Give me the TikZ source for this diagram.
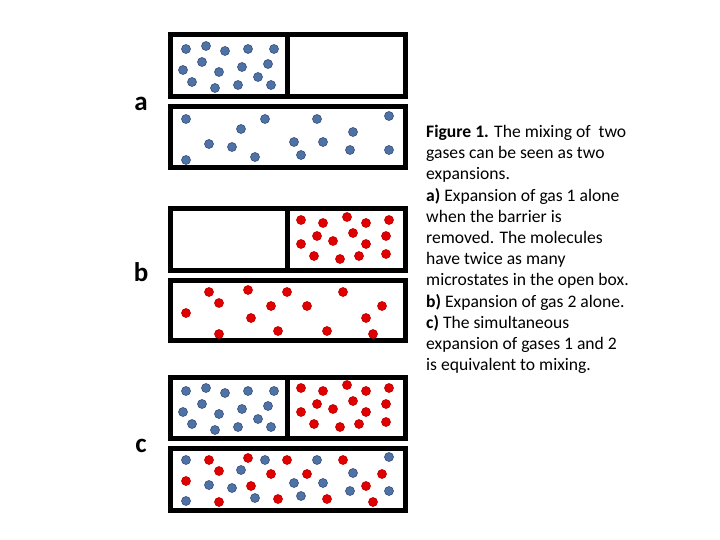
\documentclass[tikz,border=0pt]{standalone}
\usepackage{fontspec}
\setmainfont{Carlito}
\begin{document}
\begin{tikzpicture}[x=1pt,y=-1pt,
  box/.style={draw=black,line width=5pt},
  bd/.style={circle,fill={rgb,255:red,79;green,114;blue,165},draw={rgb,255:red,55;green,80;blue,125},line width=0.6pt,inner sep=0pt,minimum size=9pt},
  rd/.style={circle,fill={rgb,255:red,225;green,0;blue,0},draw={rgb,255:red,190;green,0;blue,0},line width=0.6pt,inner sep=0pt,minimum size=9pt},
  lab/.style={font=\bfseries\fontsize{27}{27}\selectfont}]
\useasboundingbox (0,0) rectangle (720,540);
% boxes
\foreach \t/\h in {35/97,209/270,377/438}{
  \draw[box] (170,\t) rectangle (405,\h);
  \draw[box] (287,\t) -- (287,\h);}
\foreach \t/\h in {107/168,280/340,448/510}{
  \draw[box] (170,\t) rectangle (405,\h);}
% blue left dots (a and c)
\foreach \dy in {0,342}{
\foreach \x/\y [count=\i] in {186/49,206/46,225/51,248/49,274/49,202/62,183/70,219/72,242/67,268/64,192/82,215/88,238/85,258/77,271/85}
  \node[bd] (bl\dy-\i) at (\x,\y+\dy) {};}
% red right dots (b and c)
\foreach \dy in {-168,0}{
\foreach \x/\y [count=\i] in {301/388,323/391,347/385,366/391,389/388,317/404,353/401,386/404,301/412,333/409,366/412,314/424,340/427,359/424,386/422}
  \node[rd] (rr\dy-\i) at (\x,\y+\dy) {};}
% blue expanded (a bottom and c bottom)
\foreach \dy in {0,341}{
\foreach \x/\y [count=\i] in {186/119,265/119,317/119,389/116,241/129,353/132,209/144,232/147,294/142,323/142,350/150,389/150,186/160,255/157,301/155}
  \node[bd] (be\dy-\i) at (\x,\y+\dy) {};}
% red expanded (b bottom and c bottom)
\foreach \dy in {-168,0}{
\foreach \x/\y [count=\i] in {209/460,248/458,287/460,343/460,219/471,271/474,307/474,382/474,186/481,251/486,366/486,219/502,278/499,327/499,373/502}
  \node[rd] (re\dy-\i) at (\x,\y+\dy) {};}
% labels
\node[lab] (la) at (141,104) {a};
\node[lab] (lb) at (141,272) {b};
\node[lab] (lc) at (141,446) {c};
\node[anchor=north west,align=left,font=\fontsize{17.6}{21.2}\selectfont,inner sep=0pt] (cap) at (426,125) {%
\textbf{Figure 1.} The mixing of\ \ two\\
gases can be seen as two\\
expansions.\\
\textbf{a)} Expansion of gas 1 alone\\
when the barrier is\\
removed. The molecules\\
have twice as many\\
microstates in the open box.\\
\textbf{b)} Expansion of gas 2 alone.\\
\textbf{c)} The simultaneous\\
expansion of gases 1 and 2\\
is equivalent to mixing.};
\end{tikzpicture}
\end{document}
